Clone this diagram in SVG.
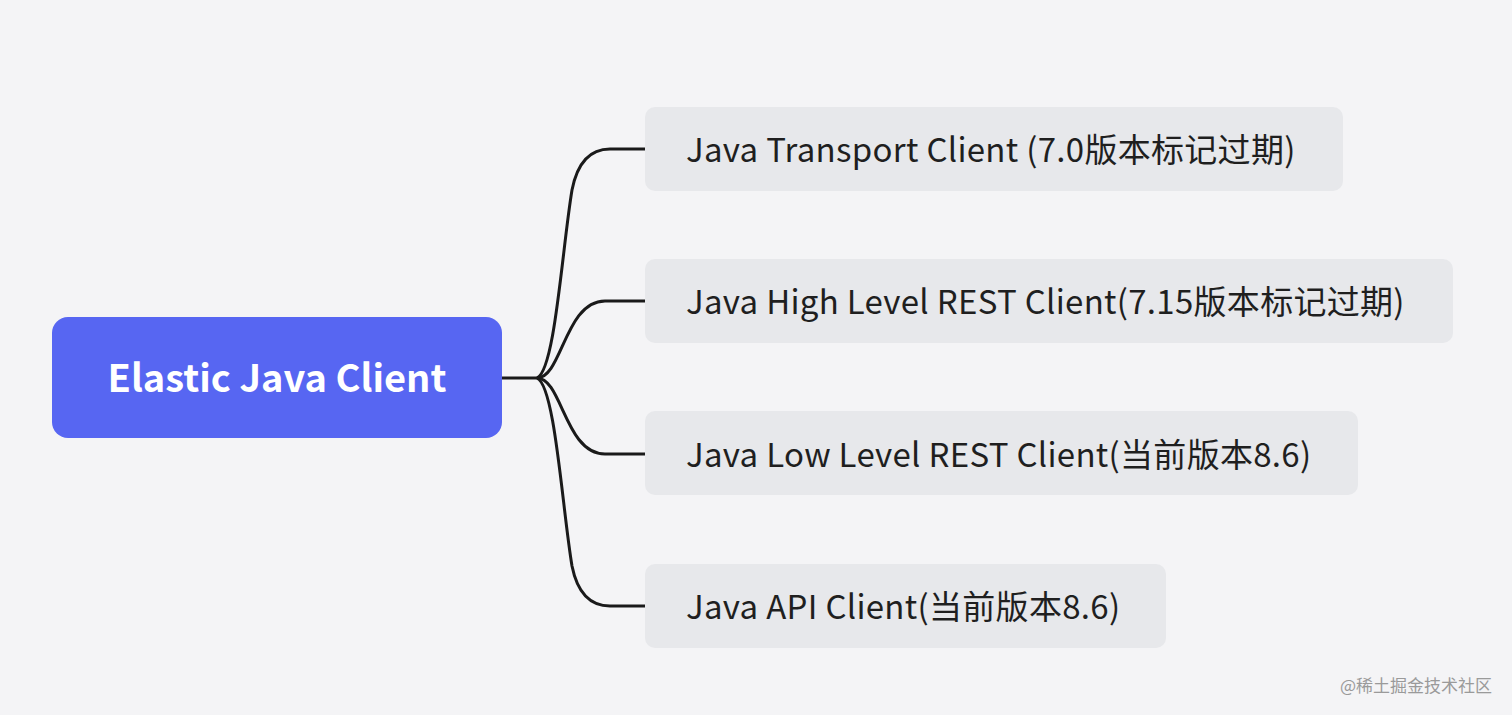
<svg xmlns="http://www.w3.org/2000/svg" width="1512" height="715" viewBox="0 0 1512 715">
<style>
.child{fill:#e7e8eb}
.ct{font-family:"Noto Sans CJK SC",sans-serif;font-size:33px;letter-spacing:0.3px;fill:#1f1f1f}
.conn{fill:none;stroke:#1a1a1a;stroke-width:3}
</style>
<rect width="1512" height="715" fill="#f4f4f6"/>
<g id="connectors">
<path class="conn" d="M502,378 L537,378"/>
<path class="conn" d="M537,378 C555,370 562,250 572,190 Q580,149 610,149 L645,149"/>
<path class="conn" d="M537,378 C562,378 565,301 605,301 L645,301"/>
<path class="conn" d="M537,378 C562,378 565,454 605,454 L645,454"/>
<path class="conn" d="M537,378 C555,386 562,506 572,566 Q580,606 610,606 L645,606"/>
</g>
<g id="root">
<rect x="52" y="317" width="450" height="121" rx="16" fill="#5766f2"/>
<text x="277" y="392" text-anchor="middle" font-family="'Noto Sans CJK SC',sans-serif" font-weight="bold" font-size="38" fill="#fff">Elastic Java Client</text>
</g>
<g id="n1"><rect class="child" x="645" y="107" width="698" height="84" rx="10"/><text class="ct" x="686" y="162">Java Transport Client (7.0版本标记过期)</text></g>
<g id="n2"><rect class="child" x="645" y="259" width="808" height="84" rx="10"/><text class="ct" x="686" y="314">Java High Level REST Client(7.15版本标记过期)</text></g>
<g id="n3"><rect class="child" x="645" y="411" width="713" height="84" rx="10"/><text class="ct" x="686" y="467">Java Low Level REST Client(当前版本8.6)</text></g>
<g id="n4"><rect class="child" x="645" y="564" width="521" height="84" rx="10"/><text class="ct" x="686" y="619">Java API Client(当前版本8.6)</text></g>
<text x="1492" y="692" text-anchor="end" font-family="'Noto Sans CJK SC',sans-serif" font-size="17" fill="#9a9a9a">@稀土掘金技术社区</text>
</svg>
